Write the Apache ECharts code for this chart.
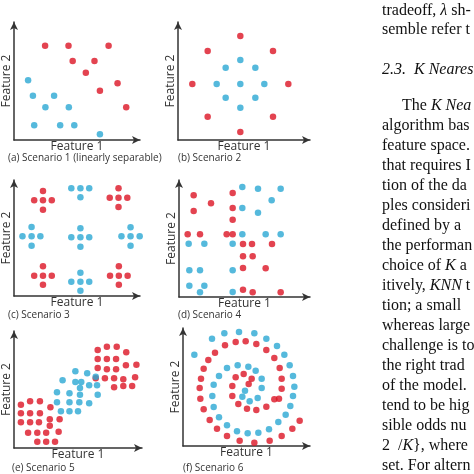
<!DOCTYPE html>
<html>
<head>
<meta charset="utf-8">
<script src="https://cdn.jsdelivr.net/npm/echarts@6/dist/echarts.min.js"></script>
<style>html,body{margin:0;background:#fff}#c{width:474px;height:474px}</style>
</head>
<body>
<div id="c"></div>
<script>
// point coords in units of 1/3 px, origin at the axis corner
var aRed = [[97,283],[170,283],[295,283],[183,237],[251,237],[224,202],[323,170],[268,148],[350,98]];
var aBlue = [[44,179],[59,133],[125,133],[98,98],[171,98],[63,44],[144,44],[188,44],[268,17]];
var bRed = [[187,312],[89,267],[285,267],[43,168],[331,168],[89,70],[285,70],[187,24]];
var bBlue = [[187,240],[143,217],[232,217],[116,168],[187,168],[259,168],[143,127],[232,127],[187,97]];
var cRed = [[62,287],[89,287],[116,287],[89,315],[89,259],
  [294,295],[321,295],[348,295],[321,323],[321,267],
  [62,61],[89,61],[116,61],[89,89],[89,34],
  [295,61],[322,61],[349,61],[322,89],[322,34]];
var cBlue = [[176,323],[204,323],[231,323],[204,350],[204,296],
  [26,179],[54,179],[81,179],[54,207],[54,151],
  [176,176],[204,176],[231,176],[204,203],[204,148],
  [330,179],[358,179],[386,179],[358,206],[358,151],
  [176,43],[204,43],[231,43],[204,70],[204,16]];
var dRed = [[44,305],[96,281],[44,258],[161,312],[161,267],[161,232],[26,188],[63,188],[143,188],[161,188],
  [192,159],[219,159],[279,159],[192,122],[221,122],[192,87],[260,86],[192,22],[221,14],[305,14]];
var dBlue = [[190,330],[237,325],[305,325],[278,290],[190,267],[237,253],[190,188],[260,188],[305,188],
  [29,160],[76,160],[161,160],[31,80],[63,80],[161,80],[31,34],[76,34],[63,14],[161,15]];
var eRed = [[21,130],[49,140],[79,140],[21,104],[49,104],[79,104],[111,122],[21,77],[49,77],[76,77],[109,86],[139,86],
  [43,46],[71,46],[98,46],[136,49],[71,19],[98,19],[125,19],[109,67],
  [255,294],[283,304],[313,304],[342,287],[255,267],[283,267],[311,267],[255,240],[283,236],[311,236],[341,248],[373,250],
  [249,209],[277,209],[305,209],[333,206],[369,212],[305,182],[333,186],[360,186]];
var eBlue = [[187,230],[223,224],[148,203],[187,198],[205,198],[249,214],[131,167],[169,164],[201,160],[229,188],[253,188],
  [131,137],[169,137],[199,137],[229,134],[255,160],[143,110],[169,110],[195,110],[201,180]];
var fBlue = [[34,274],[87,322],[124,338],[168,342],[214,338],[250,322],[282,300],[304,274],[320,242],[330,210],[334,178],
  [330,150],[322,120],[308,94],[286,72],[258,50],[226,40],[194,38],[162,44],[132,62],[108,86],[92,117],[88,150],[92,184],
  [108,210],[132,234],[164,242],[196,238],[218,226],[236,202],[236,174],[224,144],[200,134],[178,148],[186,166]];
var fRed = [[54,202],[62,232],[76,258],[96,280],[126,302],[158,312],[188,314],[220,306],[250,288],[274,264],[290,234],
  [296,202],[296,172],[288,142],[274,140],[250,118],[220,108],[192,112],[166,126],[148,150],[148,180],[158,206],[182,216],
  [206,202],[197,186],[50,174],[52,142],[62,110],[80,78],[102,52],[132,30],[170,16],[214,10],[260,16],[296,30],[328,52],[350,76]];

var panels = [
  {left: 9, top: 22, w: 131, h: 118, red: aRed, blue: aBlue},
  {left: 178, top: 22, w: 132, h: 118, red: bRed, blue: bBlue},
  {left: 11, top: 180, w: 129, h: 116, red: cRed, blue: cBlue},
  {left: 179, top: 180, w: 131, h: 117, red: dRed, blue: dBlue},
  {left: 12, top: 331, w: 130, h: 117, red: eRed, blue: eBlue},
  {left: 183, top: 328, w: 127, h: 118, red: fRed, blue: fBlue}
];
var captions = [
  ['(a) Scenario 1 (linearly separable)', 8, 159], ['(b) Scenario 2', 178, 159],
  ['(c) Scenario 3', 8, 316], ['(d) Scenario 4', 178, 316],
  ['(e) Scenario 5', 12, 469], ['(f) Scenario 6', 183, 469]
];
var textLines = [
  ['tradeoff, {i|λ} sh-', 382, 13], ['semble refer t', 382, 32],
  ['{i|2.3.  K Neares}', 382, 72], ['The {i|K Nea}', 402, 108],
  ['algorithm bas', 382, 128], ['feature space.', 382, 148], ['that requires I', 382, 168],
  ['tion of the da', 382, 188], ['ples consideri', 382, 208], ['defined by a', 382, 228],
  ['the performan', 382, 248], ['choice of {i|K} a', 382, 268], ['itively, {i|KNN} t', 382, 288],
  ['tion; a small', 382, 308], ['whereas large', 382, 328], ['challenge is to', 382, 348],
  ['the right trad', 382, 368], ['of the model.', 382, 388], ['tend to be hig', 382, 408],
  ['sible odds nu', 382, 428], ['2  /{i|K}}, where', 382, 448], ['set. For altern', 382, 468]
];

var grids = [], xAxes = [], yAxes = [], series = [];
var axisLine = {show: true, symbol: ['none', 'arrow'], symbolSize: [6, 8], lineStyle: {color: '#333', width: 1.5}};
var nameStyle = {fontFamily: 'Open Sans', fontSize: 12, color: '#333'};
panels.forEach(function (p, i) {
  grids.push({left: p.left, top: p.top, width: p.w, height: p.h});
  xAxes.push({gridIndex: i, type: 'value', min: 0, max: p.w * 3, name: 'Feature 1', nameLocation: 'middle',
    nameGap: 1, nameTextStyle: nameStyle, axisLine: axisLine, axisTick: {show: false},
    axisLabel: {show: false}, splitLine: {show: false}});
  yAxes.push({gridIndex: i, type: 'value', min: 0, max: p.h * 3, name: 'Feature 2', nameLocation: 'middle',
    nameGap: 1, nameTextStyle: nameStyle, axisLine: axisLine, axisTick: {show: false},
    axisLabel: {show: false}, splitLine: {show: false}});
  series.push({type: 'scatter', xAxisIndex: i, yAxisIndex: i, data: p.red, symbolSize: 6.5,
    itemStyle: {color: '#dc1424'}, silent: true});
  series.push({type: 'scatter', xAxisIndex: i, yAxisIndex: i, data: p.blue, symbolSize: 6.5,
    itemStyle: {color: '#2aa7d3'}, silent: true});
});

var graphics = captions.map(function (c) {
  return {type: 'text', left: c[1], top: c[2] - 6,
    style: {text: c[0], fontFamily: 'Open Sans', fontSize: 10, fill: '#333'}};
});
textLines.forEach(function (t) {
  graphics.push({type: 'text', x: t[1], y: t[2] - 10, style: {
    text: t[0], fontFamily: 'Liberation Serif', fontSize: 16, fill: '#111',
    rich: {i: {fontFamily: 'Liberation Serif', fontStyle: 'italic', fontSize: 16, fill: '#111'}}
  }});
});

var chart = echarts.init(document.getElementById('c'));
chart.setOption({
  animation: false,
  grid: grids, xAxis: xAxes, yAxis: yAxes, series: series,
  graphic: graphics
});
</script>
</body>
</html>
